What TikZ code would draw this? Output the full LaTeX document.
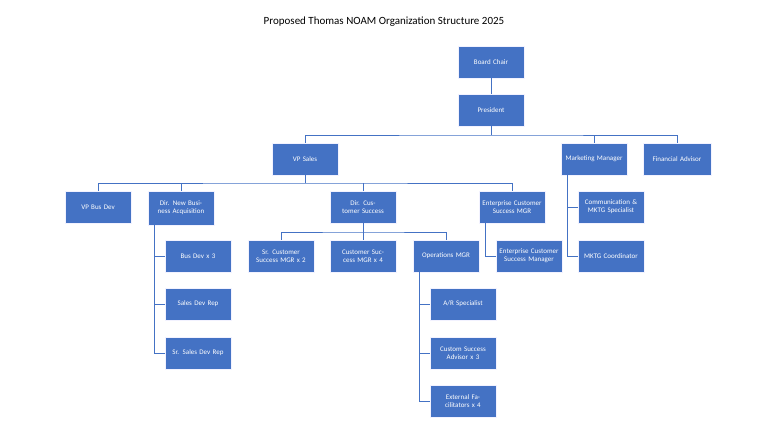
\documentclass[tikz,border=0pt]{standalone}
\usepackage{fontspec}
\setmainfont{Carlito}
\begin{document}
\begin{tikzpicture}[x=1pt,y=-1pt,
 bx/.style={draw=white!75!blue!20,line width=0.5pt,fill=boxc,text=white,minimum width=66pt,minimum height=32pt,text width=64pt,align=center,inner sep=1pt,font=\fontsize{7}{8}\selectfont},
 ln/.style={draw=boxc,line width=0.9pt}]
\definecolor{boxc}{HTML}{4472C4}
\useasboundingbox (0,0) rectangle (768,433);
\node[font=\fontsize{11}{13}\selectfont] (t) at (384,22) {Proposed Thomas NOAM Organization Structure 2025};
\node[bx] (bc) at (491,62) {Board Chair};
\node[bx] (pr) at (491,110) {President};
\node[bx] (vp) at (305,159) {VP Sales};
\node[bx] (mm) at (594,159) {Marketing Manager};
\node[bx,minimum width=68pt] (fa) at (677,159) {Financial Advisor};
\node[bx] (vb) at (98,207) {VP Bus Dev};
\node[bx,minimum height=34pt] (dn) at (181,208) {Dir. New Business Acquisition};
\node[bx] (dc) at (363,207) {Dir. Customer Success};
\node[bx] (ec) at (512,207) {Enterprise Customer Success MGR};
\node[bx] (sc) at (281,256) {Sr. Customer Success MGR x 2};
\node[bx] (cs) at (363,256) {Customer Success MGR x 4};
\node[bx] (om) at (446,256) {Operations MGR};
\node[bx] (em) at (529,256) {Enterprise Customer Success Manager};
\node[bx] (b3) at (198,256) {Bus Dev x 3};
\node[bx] (sd) at (198,304) {Sales Dev Rep};
\node[bx] (ss) at (198,353) {Sr. Sales Dev Rep};
\node[bx] (cm) at (611,207) {Communication \& MKTG Specialist};
\node[bx] (mc) at (611,256) {MKTG Coordinator};
\node[bx] (ar) at (463,304) {A/R Specialist};
\node[bx] (ca) at (463,353) {Custom Success Advisor x 3};
\node[bx] (ef) at (463,401) {External Facilitators x 4};
\coordinate (h1) at (491,135);
\coordinate (h2) at (305,183);
\coordinate (h3) at (363,232);
\draw[ln] (bc) -- (pr);
\draw[ln] (pr) -- (h1);
\draw[ln] (vp.north) |- (h1) -| (fa.north);
\draw[ln] (mm.north) -- (594,135);
\draw[ln] (vp) -- (h2);
\draw[ln] (vb.north) |- (h2) -| (ec.north);
\draw[ln] (dn.north) -- (181,183);
\draw[ln] (dc.north) -- (363,183);
\draw[ln] (dc) -- (h3);
\draw[ln] (sc.north) |- (h3) -| (om.north);
\draw[ln] (cs) -- (h3);
\draw[ln] (485,223) |- (em.west);
\draw[ln] (154,225) |- (b3.west);
\draw[ln] (154,256) |- (sd.west);
\draw[ln] (154,304) |- (ss.west);
\draw[ln] (567,175) |- (cm.west);
\draw[ln] (567,207) |- (mc.west);
\draw[ln] (419,272) |- (ar.west);
\draw[ln] (419,304) |- (ca.west);
\draw[ln] (419,353) |- (ef.west);
\end{tikzpicture}
\end{document}
